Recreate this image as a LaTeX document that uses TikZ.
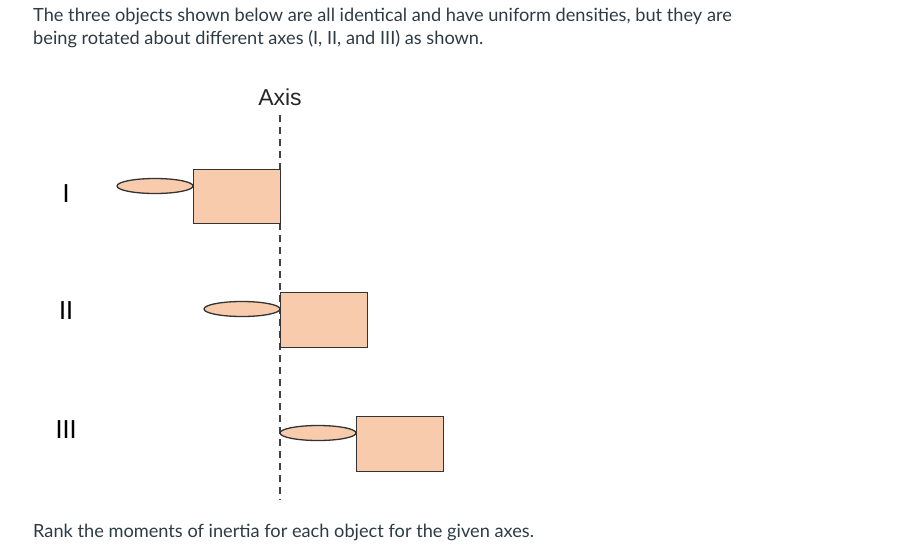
\documentclass[tikz,border=0pt]{standalone}
\usepackage{fontspec}
\setmainfont{Lato}
\newfontfamily\axfont{Liberation Sans}
\definecolor{peach}{HTML}{F8CBAD}
\definecolor{txt}{HTML}{2D3B45}
\begin{document}
\begin{tikzpicture}[x=1pt,y=-1pt,
  body/.style={draw=black!80,fill=peach,line width=1.3pt},
  lbl/.style={text=txt,font=\fontsize{18.2}{22.5}\selectfont,anchor=base west,inner sep=0pt}]
\useasboundingbox (0,0) rectangle (905,550);
\node[lbl,align=left,anchor=north west] (top) at (33,8) {The three objects shown below are all identical and have uniform densities, but they are\\being rotated about different axes (I, II, and III) as shown.};
\node[font=\fontsize{23}{26}\selectfont\axfont,text=black!85] (ax) at (280,97) {Axis};
\coordinate (a1) at (280,115);
\coordinate (a2) at (280,500);
\draw[line width=1.4pt,dash pattern=on 7pt off 5pt,black!75] (a1) -- (a2);
% I
\fill[body] (155,186) ellipse [x radius=38,y radius=7.5];
\node[body,minimum width=87,minimum height=54,inner sep=0,anchor=north west] (r1) at (193,169) {};
% II
\fill[body] (242,309) ellipse [x radius=38,y radius=7.5];
\node[body,minimum width=87,minimum height=55,inner sep=0,anchor=north west] (r2) at (280,292) {};
% III
\fill[body] (318,433) ellipse [x radius=38,y radius=7.5];
\node[body,minimum width=87,minimum height=55,inner sep=0,anchor=north west] (r3) at (356,416) {};
\node[font=\fontsize{25}{28}\selectfont,text=black] (l1) at (66,194) {I};
\node[font=\fontsize{25}{28}\selectfont,text=black] (l2) at (66,311) {II};
\node[font=\fontsize{25}{28}\selectfont,text=black] (l3) at (66,430) {III};
\node[lbl] (bot) at (33,537) {Rank the moments of inertia for each object for the given axes.};
\end{tikzpicture}
\end{document}
